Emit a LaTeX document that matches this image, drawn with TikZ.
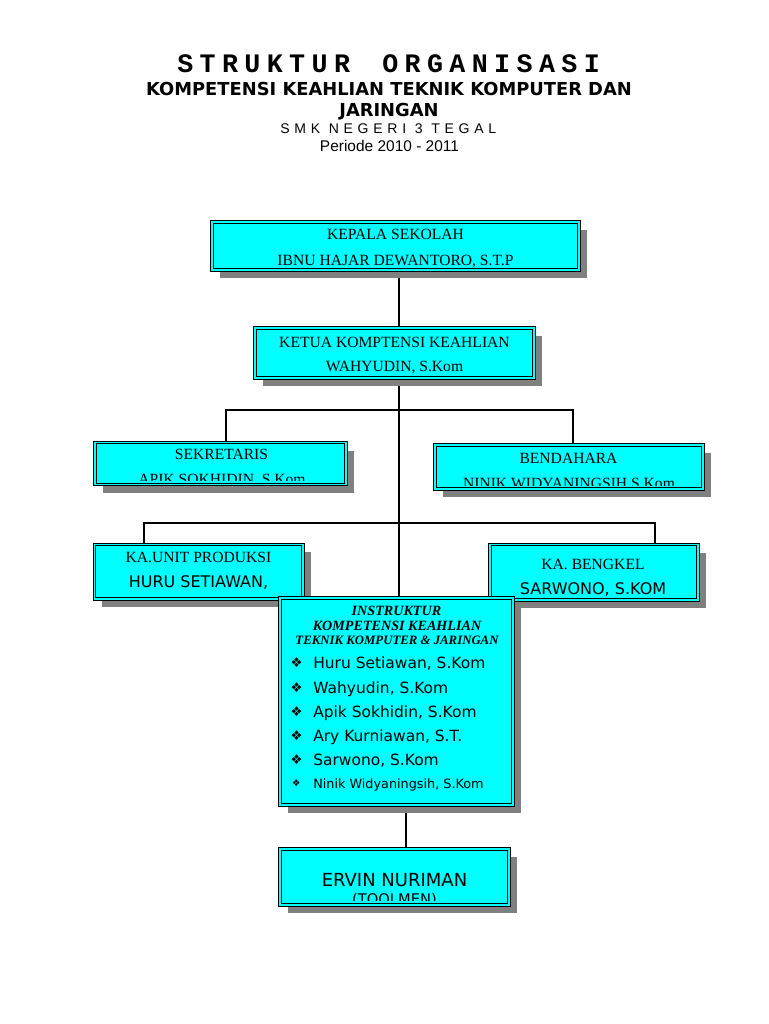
\documentclass[tikz,border=0pt]{standalone}
\usepackage{fontspec}
\setmainfont{Liberation Serif}
\newfontfamily\djv{DejaVu Sans}
\newfontfamily\djvb{DejaVu Sans Bold}
\newfontfamily\lmono[LetterSpace=24]{Liberation Mono Bold}
\newfontfamily\lsansls[LetterSpace=34]{Liberation Sans}
\newfontfamily\lsans{Liberation Sans}
\usetikzlibrary{shadows}
\definecolor{boxcyan}{HTML}{00FFFF}
\definecolor{shadowgray}{HTML}{808080}
\tikzset{
  obox/.style={draw=black, line width=0.75pt, double=boxcyan, double distance=1.2pt,
    fill=boxcyan, inner sep=0pt,
    drop shadow={shadow xshift=6pt, shadow yshift=-6pt, fill=shadowgray, opacity=1}},
  frame/.style={inner sep=0pt},
  conn/.style={draw=black, line width=0.8pt},
  lbl/.style={inner sep=0pt, anchor=base, font=\fontsize{11.7}{13}\selectfont},
  slbl/.style={inner sep=0pt, anchor=base, font=\djv\fontsize{12}{14}\selectfont},
  ilbl/.style={inner sep=0pt, anchor=base, font=\bfseries\itshape\fontsize{10.6}{12}\selectfont},
  item/.style={inner sep=0pt, anchor=base west, font=\djv\fontsize{11.6}{13}\selectfont},
  bul/.style={inner sep=0pt, anchor=center, font=\djv\fontsize{10}{12}\selectfont},
}
\begin{document}
\begin{tikzpicture}[x=0.75pt, y=-0.75pt]
\useasboundingbox[fill=white] (0,0) rectangle (768,1024);

% header
\node[inner sep=0pt, anchor=base west, font=\lmono\fontsize{20}{22}\selectfont] (t1) at (177,73) {STRUKTUR};
\node[inner sep=0pt, anchor=base west, font=\lmono\fontsize{20}{22}\selectfont] (t2) at (382,73) {ORGANISASI};
\node[inner sep=0pt, anchor=base, font=\djvb\fontsize{13.4}{15}\selectfont] (s1) at (389,95) {KOMPETENSI KEAHLIAN TEKNIK KOMPUTER DAN};
\node[inner sep=0pt, anchor=base, font=\djvb\fontsize{13.4}{15}\selectfont] (s2) at (389,116) {JARINGAN};
\node[inner sep=0pt, anchor=base west, font=\lsansls\fontsize{10.5}{12}\selectfont] (smk) at (280,133) {SMK NEGERI 3 TEGAL};
\node[inner sep=0pt, anchor=base, font=\lsans\fontsize{11.6}{13}\selectfont] (per) at (389.5,151) {Periode 2010 - 2011};

% anchors for connectors
\coordinate (trunk) at (399,0);
\coordinate (busA) at (0,410);
\coordinate (busB) at (0,523);
\coordinate (xsek) at (226,0);
\coordinate (xben) at (573,0);
\coordinate (xunit) at (144,0);
\coordinate (xbeng) at (655,0);
\coordinate (xerv) at (406,0);

% box frames (geometry)
\path
  node[frame, minimum width=275.5pt, minimum height=36.3pt] (kepala) at (395.5,246) {}
  node[frame, minimum width=209.5pt, minimum height=37.8pt] (ketua) at (394.5,353) {}
  node[frame, minimum width=188.5pt, minimum height=31.5pt] (sek) at (220.5,463.5) {}
  node[frame, minimum width=201.3pt, minimum height=33pt] (ben) at (569,466.9) {}
  node[frame, minimum width=156.5pt, minimum height=41pt] (unit) at (198.8,571.8) {}
  node[frame, minimum width=156.3pt, minimum height=41.5pt] (beng) at (594,572.2) {}
  node[frame, minimum width=175pt, minimum height=155.5pt] (ins) at (396.5,701.5) {}
  node[frame, minimum width=172pt, minimum height=42.3pt] (erv) at (394.5,877) {};

% connectors
\draw[conn] (trunk |- kepala.south) -- (trunk |- ketua.north);
\draw[conn] (trunk |- ketua.south) -- (trunk |- ins.north);
\draw[conn] (xsek |- sek.north) -- (xsek |- busA) -- (xben |- busA) -- (xben |- ben.north);
\draw[conn] (xunit |- unit.north) -- (xunit |- busB) -- (xbeng |- busB) -- (xbeng |- beng.north);
\draw[conn] (xerv |- ins.south) -- (xerv |- erv.north);

% boxes
\node[obox, minimum width=275.5pt, minimum height=36.3pt] (kepalaB) at (kepala) {};
\node[obox, minimum width=209.5pt, minimum height=37.8pt] (ketuaB) at (ketua) {};
\node[obox, minimum width=188.5pt, minimum height=31.5pt] (sekB) at (sek) {};
\node[obox, minimum width=201.3pt, minimum height=33pt] (benB) at (ben) {};
\node[obox, minimum width=156.5pt, minimum height=41pt] (unitB) at (unit) {};
\node[obox, minimum width=156.3pt, minimum height=41.5pt] (bengB) at (beng) {};
\node[obox, minimum width=175pt, minimum height=155.5pt] (insB) at (ins) {};
\node[obox, minimum width=172pt, minimum height=42.3pt] (ervB) at (erv) {};

% texts
\node[lbl] (k1) at (395.5,239) {KEPALA SEKOLAH};
\node[lbl] (k2) at (395.5,265) {IBNU HAJAR DEWANTORO, S.T.P};
\node[lbl] (q1) at (394.5,347) {KETUA KOMPTENSI KEAHLIAN};
\node[lbl] (q2) at (394.5,371.5) {WAHYUDIN, S.Kom};
\node[lbl] (se1) at (221.5,459) {SEKRETARIS};
\begin{scope}
  \clip ([shift={(4,-4)}]sek.south west) rectangle ([shift={(-4,4)}]sek.north east);
  \node[lbl] (se2) at (222,484) {APIK SOKHIDIN, S.Kom};
\end{scope}
\node[lbl] (be1) at (568.5,463) {BENDAHARA};
\begin{scope}
  \clip ([shift={(4,-4)}]ben.south west) rectangle ([shift={(-4,4)}]ben.north east);
  \node[lbl] (be2) at (569,488.5) {NINIK WIDYANINGSIH S.Kom};
\end{scope}
\node[lbl] (u1) at (198.5,562) {KA.UNIT PRODUKSI};
\node[slbl] (u2) at (198.5,587) {HURU SETIAWAN,};
\node[lbl] (g1) at (593,569) {KA. BENGKEL};
\node[slbl] (g2) at (593,594) {SARWONO, S.KOM};

\node[ilbl] (i1) at (396.5,615) {INSTRUKTUR};
\node[ilbl] (i2) at (397,630) {KOMPETENSI KEAHLIAN};
\node[ilbl, font=\bfseries\itshape\fontsize{9.6}{11}\selectfont] (i3) at (397,644) {TEKNIK KOMPUTER \& JARINGAN};
\foreach \yy/\txt [count=\n] in {668/{Huru Setiawan, S.Kom}, 693/{Wahyudin, S.Kom}, 717/{Apik Sokhidin, S.Kom}, 741.5/{Ary Kurniawan, S.T.}, 765.5/{Sarwono, S.Kom}}{
  \node[bul] (b\n) at (296.7,\yy-5.5) {❖};
  \node[item] (it\n) at (313,\yy) {\txt};
}
\node[bul, font=\djv\fontsize{7}{8}\selectfont] (b6) at (296.4,783.5) {❖};
\node[item, font=\djv\fontsize{9.6}{11}\selectfont] (it6) at (313,788) {Ninik Widyaningsih, S.Kom};

\node[inner sep=0pt, anchor=base, font=\djv\fontsize{13.5}{15}\selectfont] (e1) at (394.5,886) {ERVIN NURIMAN};
\begin{scope}
  \clip ([shift={(4,-4.5)}]erv.south west) rectangle ([shift={(-4,4)}]erv.north east);
  \node[inner sep=0pt, anchor=base, font=\djv\fontsize{11}{13}\selectfont] (e2) at (394.5,904) {(TOOLMEN)};
\end{scope}
\end{tikzpicture}
\end{document}
